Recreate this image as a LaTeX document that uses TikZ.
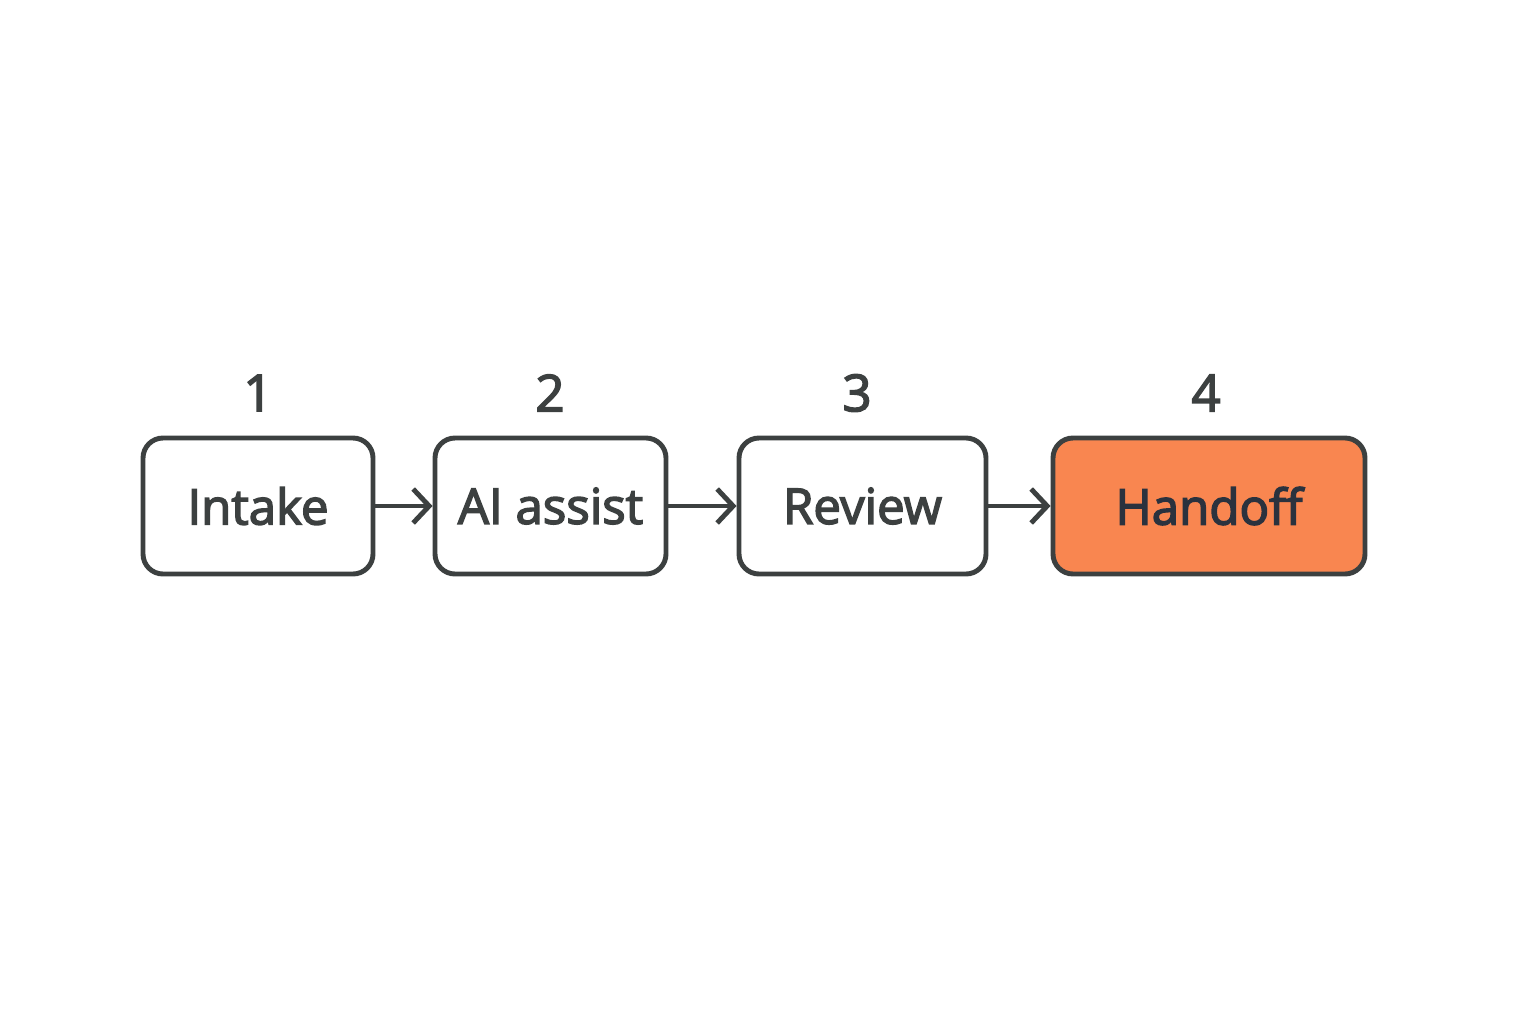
\documentclass[tikz,border=0pt]{standalone}
\usepackage{fontspec}
\setmainfont{Open Sans}
\newfontfamily\labelfont{Open Sans}[FakeBold=3]
\usetikzlibrary{arrows.meta, positioning}
\definecolor{sgray}{RGB}{60,64,64}
\definecolor{hnavy}{RGB}{43,50,62}
\definecolor{horange}{RGB}{249,134,80}

\begin{document}
\begin{tikzpicture}[
  step box/.style={draw=sgray, line width=1.4pt, rounded corners=0.2cm, fill=white,
              minimum height=1.36cm, font=\labelfont\fontsize{14}{17}\selectfont, text=sgray},
  num/.style={font=\labelfont\fontsize{14.5}{17}\selectfont, text=sgray},
  arr/.style={-{Straight Barb[length=1.6mm, width=3.4mm, line width=1.4pt]}, line width=1.4pt, sgray}
]
\useasboundingbox (0,0) rectangle (15.36,10.24);
\node[step box, minimum width=2.30cm] (intake) at (2.58, 5.18) {Intake};
\node[step box, minimum width=2.31cm] (assist) at (5.505, 5.18) {AI assist};
\node[step box, minimum width=2.47cm] (review) at (8.625, 5.18) {Review};
\node[step box, minimum width=3.12cm, fill=horange, text=hnavy] (handoff) at (12.09, 5.18) {Handoff};
\node[num] (n1) at (2.58, 6.31) {1};
\node[num] (n2) at (5.50, 6.31) {2};
\node[num] (n3) at (8.57, 6.31) {3};
\node[num] (n4) at (12.06, 6.31) {4};
\draw[arr] (intake) -- (assist);
\draw[arr] (assist) -- (review);
\draw[arr] (review) -- (handoff);
\end{tikzpicture}
\end{document}
